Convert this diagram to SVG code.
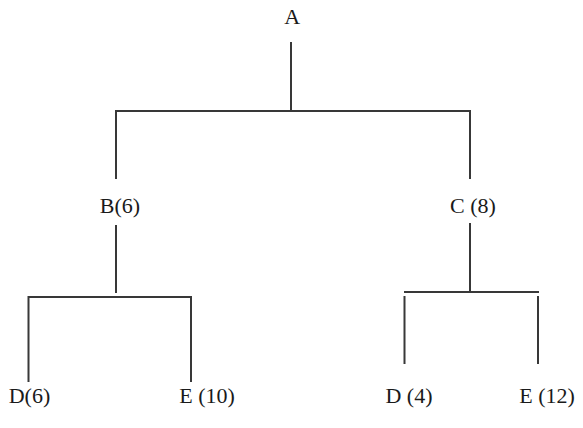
<svg xmlns="http://www.w3.org/2000/svg" width="583" height="428" viewBox="0 0 583 428">
<style>
.lbl{font-family:"Liberation Serif","Times New Roman",serif;font-size:22px;fill:#1a1a1a;text-anchor:middle}
.ln{stroke:#383838;stroke-width:2;fill:none;stroke-linecap:butt}
</style>
<rect width="583" height="428" fill="#fff"/>
<g id="connectors">
<path class="ln" d="M291,42V111M115,111H471M116,110V179M470,110V179"/>
<path class="ln" d="M116,225V293M27.5,297H192M28.5,296V382M191,296V382"/>
<path class="ln" d="M470,223V291M404,292H539M404.5,296V364M538,296V364"/>
</g>
<g id="A"><text class="lbl" x="292.3" y="24">A</text></g>
<g id="B"><text class="lbl" x="120" y="212.5">B(6)</text></g>
<g id="C"><text class="lbl" x="473" y="212.5">C (8)</text></g>
<g id="D1"><text class="lbl" x="29.5" y="402.5">D(6)</text></g>
<g id="E1"><text class="lbl" x="207" y="402.5">E (10)</text></g>
<g id="D2"><text class="lbl" x="409" y="402.5">D (4)</text></g>
<g id="E2"><text class="lbl" x="547" y="402.5">E (12)</text></g>
</svg>
